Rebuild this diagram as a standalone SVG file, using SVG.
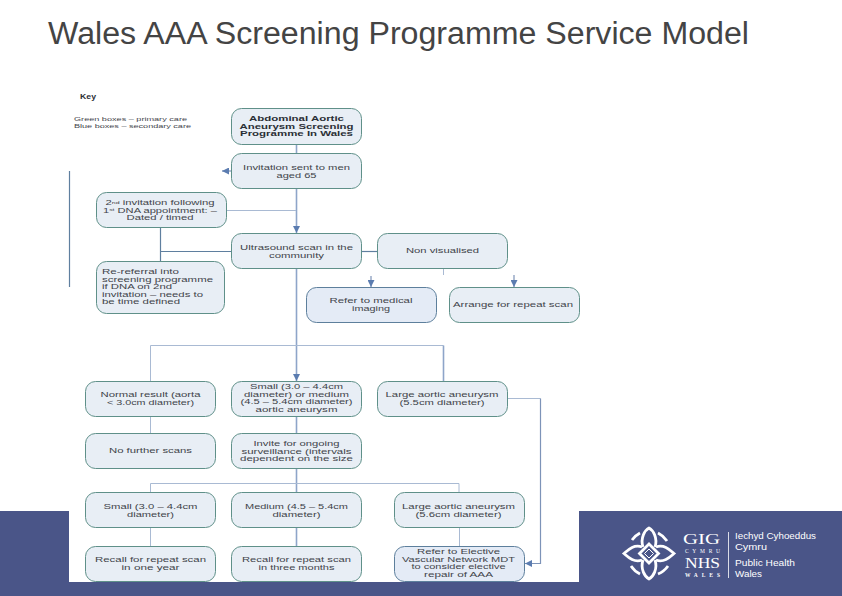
<svg xmlns="http://www.w3.org/2000/svg" width="842" height="596" viewBox="0 0 842 596">
<style>
text{font-family:"Liberation Sans",Arial,sans-serif;fill:#3f444a;font-size:6.5px;text-anchor:middle}
.l{text-anchor:start}
.b{font-weight:700;fill:#2a2f35}
.g rect{fill:#e8eef5;stroke:#5f9089;stroke-width:1}
.s rect{fill:#e4ebf6;stroke:#5d7f9c;stroke-width:1}
.c{fill:none;stroke:#8ea5c9;stroke-width:1.6}
.t{fill:none;stroke:#a9bad3;stroke-width:1}
.d{fill:none;stroke:#5f7f9f;stroke-width:1.2}
.h{fill:none;stroke:#7d93b8;stroke-width:1.2}
.lg text{fill:#fff}
.lg .n{font-family:"Liberation Serif",serif}
.k{fill:none;stroke:#fff;stroke-width:2.8}
.r{font-size:9.500px}
</style>
<defs>
<marker id="a" markerUnits="userSpaceOnUse" markerWidth="8" markerHeight="7" refX="7" refY="3.5" orient="auto"><path d="M0 0L7 3.5L0 7Z" fill="#5b7cb0"/></marker>
</defs>
<rect width="842" height="596" fill="#fff"/>
<g id="banner"><path d="M0 511H69V582H579V511H842V596H0Z" fill="#4a5588"/></g>
<text id="title" x="48" y="44" class="l" style="font-size:31px;fill:#444" textLength="701" lengthAdjust="spacingAndGlyphs">Wales AAA Screening Programme Service Model</text>
<g id="key">
<text x="80" y="99" class="l b" style="font-size:7px" textLength="16" lengthAdjust="spacingAndGlyphs">Key</text>
<text x="74" y="121" class="l" style="font-size:6px" textLength="113" lengthAdjust="spacingAndGlyphs">Green boxes – primary care</text>
<text x="74" y="128" class="l" style="font-size:6px" textLength="117" lengthAdjust="spacingAndGlyphs">Blue boxes – secondary care</text>
</g>
<g id="connectors">
<path class="d" d="M69.500 171V287"/>
<path class="c" d="M296.500 144V153"/>
<path class="c" d="M296.500 189V233" marker-end="url(#a)"/>
<path class="h" d="M231 171H222" marker-end="url(#a)"/>
<path class="t" d="M226 210.500H296"/>
<path class="d" d="M160.500 228V261M160.500 251.500H231"/>
<path class="d" d="M362 251.500H377"/>
<path class="c" d="M296.500 268V381" marker-end="url(#a)"/>
<path class="t" d="M443.500 268V275"/>
<path class="h" d="M371 276V287" marker-end="url(#a)"/>
<path class="h" d="M514 275V287" marker-end="url(#a)"/>
<path class="t" d="M150.500 381V345.500H443.500"/>
<path class="c" d="M443.500 345.500V381"/>
<path class="t" d="M150.500 416V433"/>
<path class="c" d="M296.500 416V433"/>
<path class="c" d="M296.500 469V492"/>
<path class="t" d="M150.500 492V483.500H459V492"/>
<path class="t" d="M150.500 528V546"/>
<path class="c" d="M296.500 528V546"/>
<path class="t" d="M459.500 528V546"/>
<path class="t" d="M507 398.500H540.500"/>
<path class="h" d="M540.500 398.500V563.500H525" marker-end="url(#a)"/>
</g>
<g id="n-abdominal" class="g"><rect x="231.500" y="108.500" width="130" height="36" rx="10"/>
<text x="296.500" y="121" class="b" textLength="95" lengthAdjust="spacingAndGlyphs">Abdominal Aortic</text>
<text x="296.500" y="128.500" class="b" textLength="114" lengthAdjust="spacingAndGlyphs">Aneurysm Screening</text>
<text x="296.500" y="136" class="b" textLength="113" lengthAdjust="spacingAndGlyphs">Programme In Wales</text></g>
<g id="n-invitation" class="g"><rect x="231.500" y="153.500" width="130" height="35" rx="10"/>
<text x="296.500" y="170" textLength="107" lengthAdjust="spacingAndGlyphs">Invitation sent to men</text>
<text x="296.500" y="177.500" textLength="40" lengthAdjust="spacingAndGlyphs">aged 65</text></g>
<g id="n-second" class="g"><rect x="96.500" y="192.500" width="130" height="35" rx="10"/>
<text x="160" y="205" textLength="109" lengthAdjust="spacingAndGlyphs">2<tspan dy="-1.5" style="font-size:4px">nd</tspan><tspan dy="1.5"> invitation following</tspan></text>
<text x="160" y="212.500" textLength="114" lengthAdjust="spacingAndGlyphs">1<tspan dy="-1.5" style="font-size:4px">st</tspan><tspan dy="1.5"> DNA appointment: –</tspan></text>
<text x="160" y="220" textLength="67" lengthAdjust="spacingAndGlyphs">Dated / timed</text></g>
<g id="n-ultrasound" class="g"><rect x="231.500" y="233.500" width="130" height="35" rx="10"/>
<text x="296.500" y="250" textLength="113" lengthAdjust="spacingAndGlyphs">Ultrasound scan in the</text>
<text x="296.500" y="257.500" textLength="55" lengthAdjust="spacingAndGlyphs">community</text></g>
<g id="n-nonvis" class="g"><rect x="377.500" y="233.500" width="130" height="35" rx="10"/>
<text x="442.500" y="253" textLength="73" lengthAdjust="spacingAndGlyphs">Non visualised</text></g>
<g id="n-rereferral" class="g"><rect x="96.500" y="261.500" width="128" height="52" rx="10"/>
<text x="102" y="274" class="l" textLength="77" lengthAdjust="spacingAndGlyphs">Re-referral into</text>
<text x="102" y="281.500" class="l" textLength="111" lengthAdjust="spacingAndGlyphs">screening programme</text>
<text x="102" y="289" class="l" textLength="70" lengthAdjust="spacingAndGlyphs">if DNA on 2nd</text>
<text x="102" y="296.500" class="l" textLength="101" lengthAdjust="spacingAndGlyphs">invitation – needs to</text>
<text x="102" y="304" class="l" textLength="78" lengthAdjust="spacingAndGlyphs">be time defined</text></g>
<g id="n-imaging" class="s"><rect x="306.500" y="287.500" width="130" height="35" rx="10"/>
<text x="371" y="303" textLength="83" lengthAdjust="spacingAndGlyphs">Refer to medical</text>
<text x="371" y="310.500" textLength="38" lengthAdjust="spacingAndGlyphs">imaging</text></g>
<g id="n-repeat" class="g"><rect x="449.500" y="287.500" width="130" height="35" rx="10"/>
<text x="513" y="307" textLength="120" lengthAdjust="spacingAndGlyphs">Arrange for repeat scan</text></g>
<g id="n-normal" class="g"><rect x="85.500" y="381.500" width="130" height="35" rx="10"/>
<text x="150.500" y="397" textLength="100" lengthAdjust="spacingAndGlyphs">Normal result (aorta</text>
<text x="150.500" y="404.500" textLength="87" lengthAdjust="spacingAndGlyphs">&lt; 3.0cm diameter)</text></g>
<g id="n-smallmed" class="g"><rect x="231.500" y="381.500" width="130" height="35" rx="10"/>
<text x="296.500" y="389" textLength="93" lengthAdjust="spacingAndGlyphs">Small (3.0 – 4.4cm</text>
<text x="296.500" y="396.500" textLength="105" lengthAdjust="spacingAndGlyphs">diameter) or medium</text>
<text x="296.500" y="404" textLength="112" lengthAdjust="spacingAndGlyphs">(4.5 – 5.4cm diameter)</text>
<text x="296.500" y="411.500" textLength="82" lengthAdjust="spacingAndGlyphs">aortic aneurysm</text></g>
<g id="n-large" class="g"><rect x="377.500" y="381.500" width="130" height="35" rx="10"/>
<text x="442" y="397" textLength="113" lengthAdjust="spacingAndGlyphs">Large aortic aneurysm</text>
<text x="442" y="404.500" textLength="85" lengthAdjust="spacingAndGlyphs">(5.5cm diameter)</text></g>
<g id="n-nofurther" class="g"><rect x="85.500" y="433.500" width="130" height="35" rx="10"/>
<text x="150.500" y="453" textLength="83" lengthAdjust="spacingAndGlyphs">No further scans</text></g>
<g id="n-invite" class="g"><rect x="231.500" y="433.500" width="130" height="35" rx="10"/>
<text x="296.500" y="446" textLength="86" lengthAdjust="spacingAndGlyphs">Invite for ongoing</text>
<text x="296.500" y="453.500" textLength="110" lengthAdjust="spacingAndGlyphs">surveillance (intervals</text>
<text x="296.500" y="461" textLength="113" lengthAdjust="spacingAndGlyphs">dependent on the size</text></g>
<g id="n-small" class="g"><rect x="85.500" y="492.500" width="130" height="35" rx="10"/>
<text x="150.500" y="509" textLength="94" lengthAdjust="spacingAndGlyphs">Small (3.0 – 4.4cm</text>
<text x="150.500" y="516.500" textLength="47" lengthAdjust="spacingAndGlyphs">diameter)</text></g>
<g id="n-medium" class="g"><rect x="231.500" y="492.500" width="130" height="35" rx="10"/>
<text x="296.500" y="509" textLength="103" lengthAdjust="spacingAndGlyphs">Medium (4.5 – 5.4cm</text>
<text x="296.500" y="516.500" textLength="48" lengthAdjust="spacingAndGlyphs">diameter)</text></g>
<g id="n-large2" class="g"><rect x="394.500" y="492.500" width="130" height="35" rx="10"/>
<text x="458.500" y="509" textLength="113" lengthAdjust="spacingAndGlyphs">Large aortic aneurysm</text>
<text x="458.500" y="516.500" textLength="86" lengthAdjust="spacingAndGlyphs">(5.6cm diameter)</text></g>
<g id="n-recall1" class="g"><rect x="85.500" y="546.500" width="130" height="35" rx="10"/>
<text x="150.500" y="562" textLength="111" lengthAdjust="spacingAndGlyphs">Recall for repeat scan</text>
<text x="150.500" y="569.500" textLength="58" lengthAdjust="spacingAndGlyphs">in one year</text></g>
<g id="n-recall3" class="g"><rect x="231.500" y="546.500" width="130" height="35" rx="10"/>
<text x="296.500" y="562" textLength="109" lengthAdjust="spacingAndGlyphs">Recall for repeat scan</text>
<text x="296.500" y="569.500" textLength="76" lengthAdjust="spacingAndGlyphs">in three months</text></g>
<g id="n-elective" class="s"><rect x="394.500" y="546.500" width="130" height="35" rx="10"/>
<text x="458.500" y="554" textLength="83" lengthAdjust="spacingAndGlyphs">Refer to Elective</text>
<text x="458.500" y="561.500" textLength="113" lengthAdjust="spacingAndGlyphs">Vascular Network MDT</text>
<text x="458.500" y="569" textLength="94" lengthAdjust="spacingAndGlyphs">to consider elective</text>
<text x="458.500" y="576.500" textLength="69" lengthAdjust="spacingAndGlyphs">repair of AAA</text></g>
<g id="logo" class="lg">
<g id="knot">
<path class="k" d="M632 540A23 23 0 0 1 640 533M658 533A23 23 0 0 1 667 541M668 566A23 23 0 0 1 658 574M640 574A23 23 0 0 1 631 566"/>
<path class="k" d="M643 547C640 538 645 530 649 528C653 530 658 538 655 547"/>
<path class="k" d="M643 560C640 569 645 577 649 579C653 577 658 569 655 560"/>
<path class="k" d="M642 547C634 544 628 550 624 553.500C628 557 634 563 642 560"/>
<path class="k" d="M656 547C664 544 670 550 674 553.500C670 557 664 563 656 560"/>
<path class="k" d="M649 544L658.500 553.500L649 563L639.500 553.500Z"/>
<path d="M649 549L653.500 553.500L649 558L644.500 553.500Z" fill="#4a5588" stroke="#fff" stroke-width="1"/>
</g>
<text x="683" y="544" class="l n" style="font-size:15px" textLength="37" lengthAdjust="spacingAndGlyphs">GIG</text>
<text x="685" y="553" class="l n" style="font-size:5.500px" textLength="35" lengthAdjust="spacing">CYMRU</text>
<text x="685" y="567.500" class="l n" style="font-size:15px" textLength="35" lengthAdjust="spacingAndGlyphs">NHS</text>
<text x="685" y="577" class="l n" style="font-size:5.500px;font-weight:700" textLength="35" lengthAdjust="spacing">WALES</text>
<path d="M728.500 532V578" stroke="#fff" stroke-width="0.8" fill="none"/>
<text x="735" y="539" class="l r" textLength="81" lengthAdjust="spacingAndGlyphs">Iechyd Cyhoeddus</text>
<text x="735" y="550" class="l r" textLength="32" lengthAdjust="spacingAndGlyphs">Cymru</text>
<text x="735" y="566" class="l r" textLength="60" lengthAdjust="spacingAndGlyphs">Public Health</text>
<text x="735" y="577" class="l r" textLength="27" lengthAdjust="spacingAndGlyphs">Wales</text>
</g>
</svg>
